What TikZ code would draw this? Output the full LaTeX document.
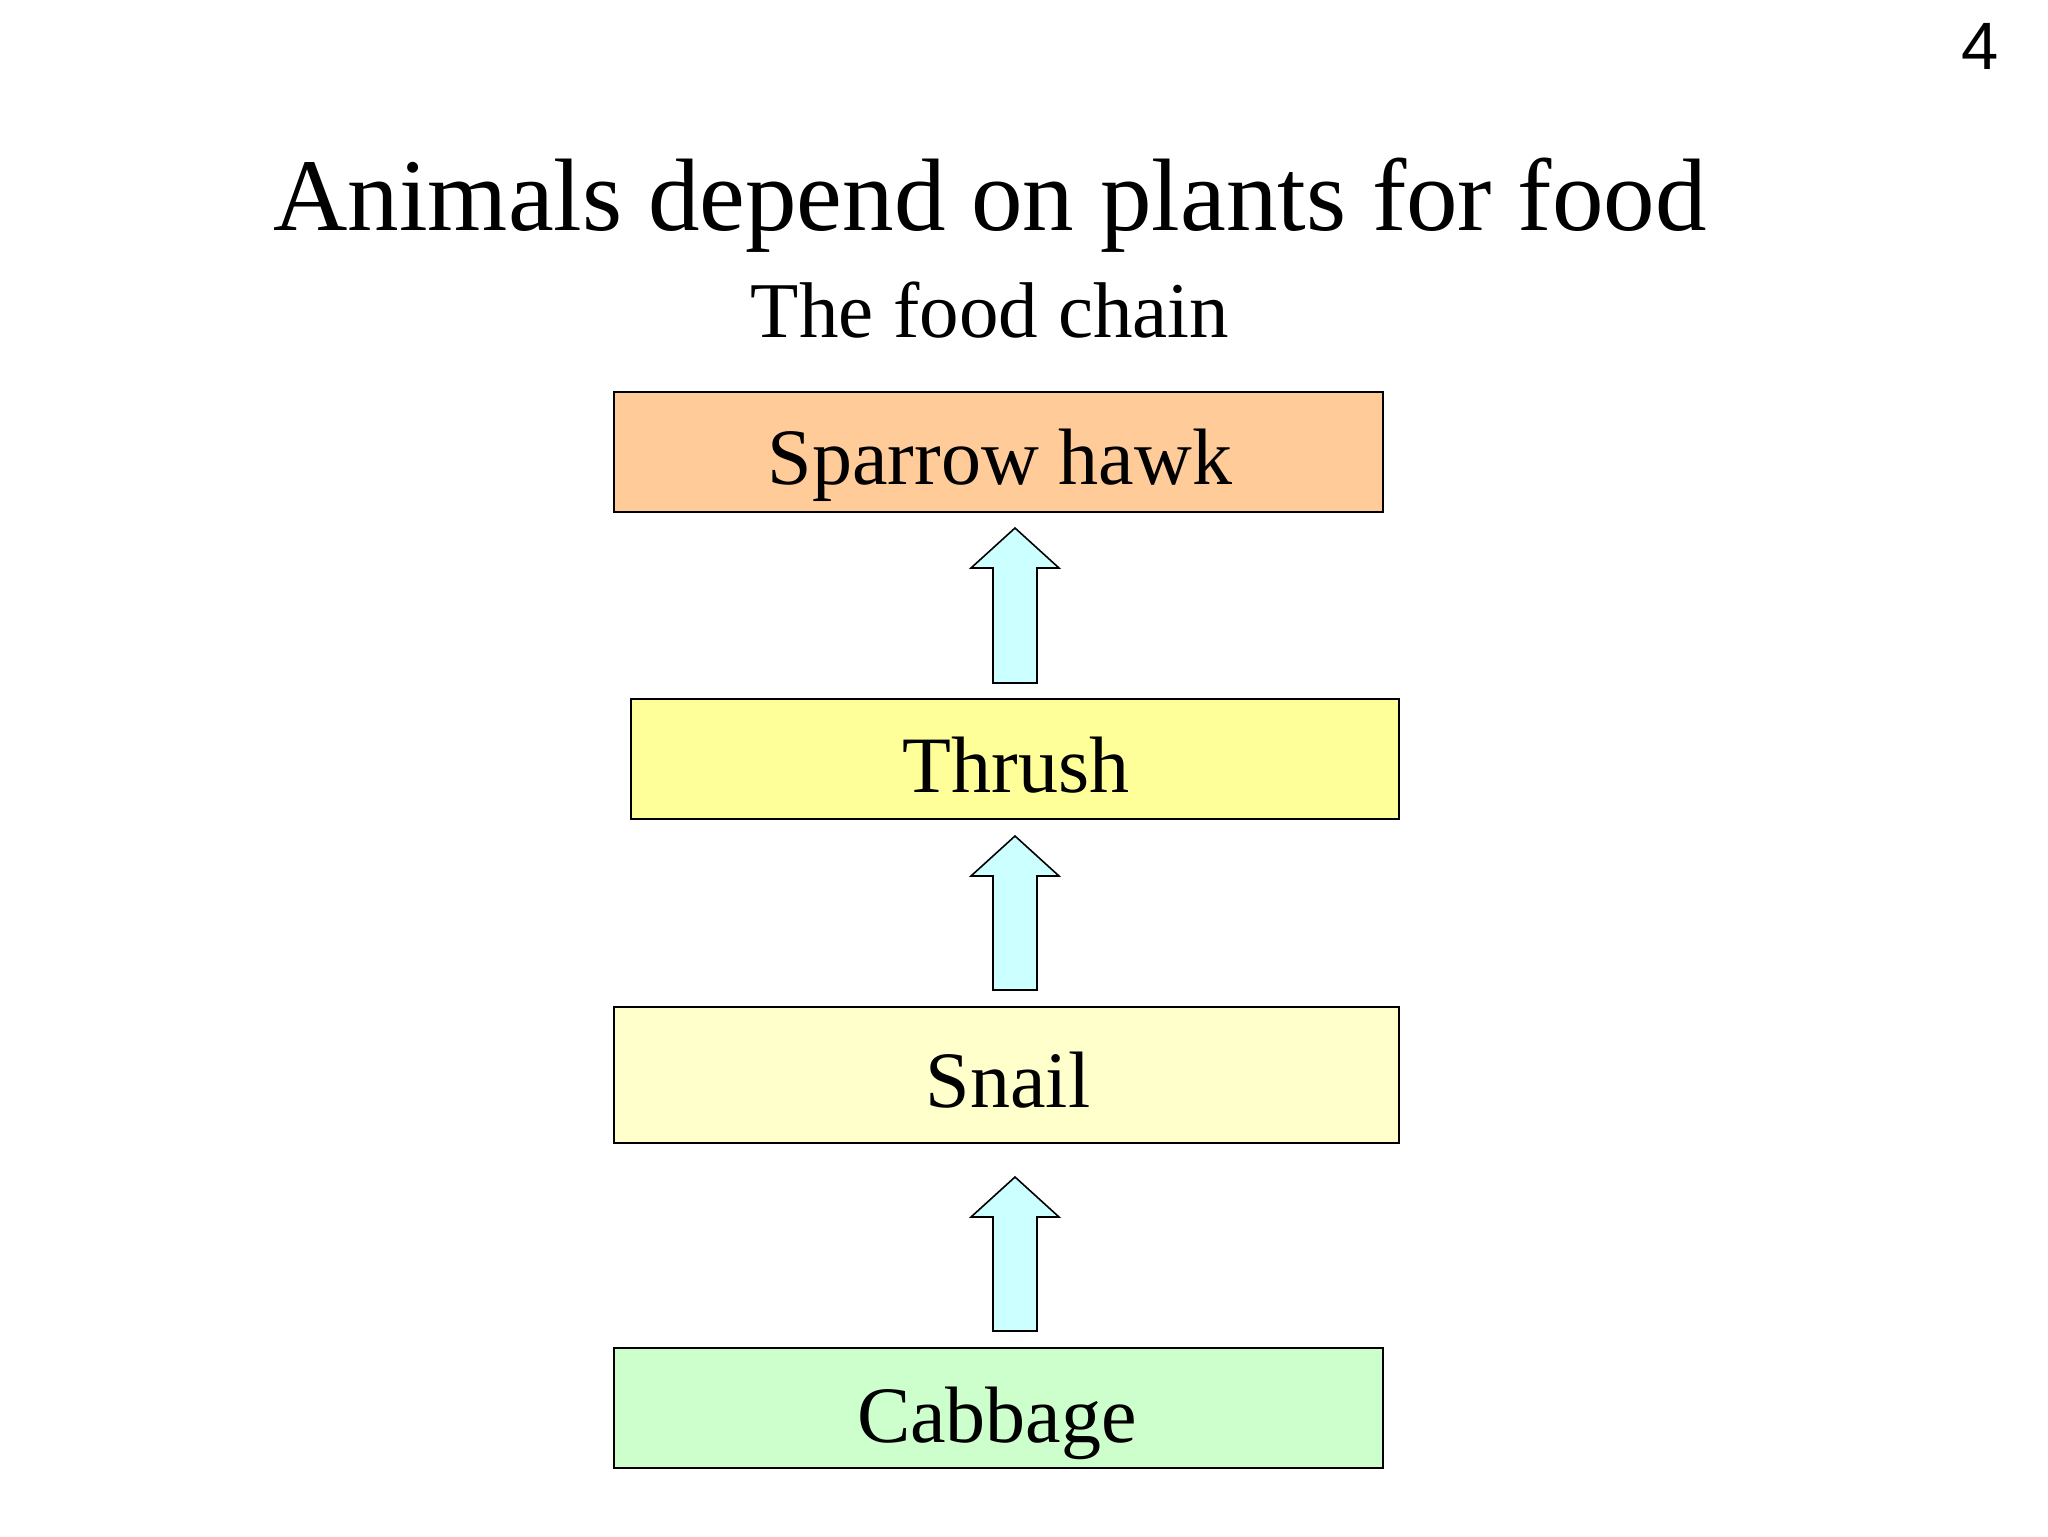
\documentclass[tikz,border=0pt]{standalone}
\usepackage{fontspec}
\setmainfont{Liberation Serif}
\newfontfamily\numfont{Liberation Sans}
\usetikzlibrary{calc}
\definecolor{hawkfill}{HTML}{FFCC99}
\definecolor{thrushfill}{HTML}{FFFF99}
\definecolor{snailfill}{HTML}{FFFFCC}
\definecolor{cabbagefill}{HTML}{CCFFCC}
\definecolor{arrowcyan}{HTML}{CCFFFF}
\newcommand\blockarrow[2]{%
  \draw[barrow] ($(#1)+(-22,0)$) -- ($(#2)+(-22,40)$) -- ($(#2)+(-44,40)$) -- (#2)
    -- ($(#2)+(44,40)$) -- ($(#2)+(22,40)$) -- ($(#1)+(22,0)$) -- cycle;}
\begin{document}
\begin{tikzpicture}[x=0.5pt,y=-0.5pt,
  box/.style={draw=black, line width=1pt, inner sep=0pt, minimum height=60pt},
  lbl/.style={anchor=base, inner sep=0pt, font=\fontsize{40}{48}\selectfont},
  barrow/.style={draw=black, line width=0.8pt, fill=arrowcyan, line join=miter}]
\fill[white] (0,0) rectangle (2048,1536);
\useasboundingbox (0,0) rectangle (2048,1536);

% titles
\node (pagenum) [anchor=base, inner sep=0pt, font=\numfont\fontsize{33.5}{40}\selectfont] at (1980,70) {4};
\node (title) [anchor=base, inner sep=0pt, font=\fontsize{51.5}{60}\selectfont] at (990,230) {Animals depend on plants for food};
\node (subtitle) [anchor=base, inner sep=0pt, font=\fontsize{39.5}{48}\selectfont] at (990,337) {The food chain};

% boxes
\node (hawkbox) [box, fill=hawkfill, minimum width=384.5pt] at (998.5,452) {};
\node (thrushbox) [box, fill=thrushfill, minimum width=384pt] at (1015,759) {};
\node (snailbox) [box, fill=snailfill, minimum width=392.5pt, minimum height=68pt] at (1006.5,1075) {};
\node (cabbagebox) [box, fill=cabbagefill, minimum width=384.5pt] at (998.5,1408) {};

% labels
\node (hawk) [lbl] at (1000,484) {Sparrow hawk};
\node (thrush) [lbl] at (1016,792) {Thrush};
\node (snail) [lbl] at (1008,1107) {Snail};
\node (cabbage) [lbl] at (997,1442) {Cabbage};

% arrows
\coordinate (a1tail) at (1015,683);
\coordinate (a1tip) at (1015,528);
\coordinate (a2tail) at (1015,990);
\coordinate (a2tip) at (1015,836);
\coordinate (a3tail) at (1015,1331);
\coordinate (a3tip) at (1015,1177);
\blockarrow{a1tail}{a1tip}
\blockarrow{a2tail}{a2tip}
\blockarrow{a3tail}{a3tip}
\end{tikzpicture}
\end{document}
